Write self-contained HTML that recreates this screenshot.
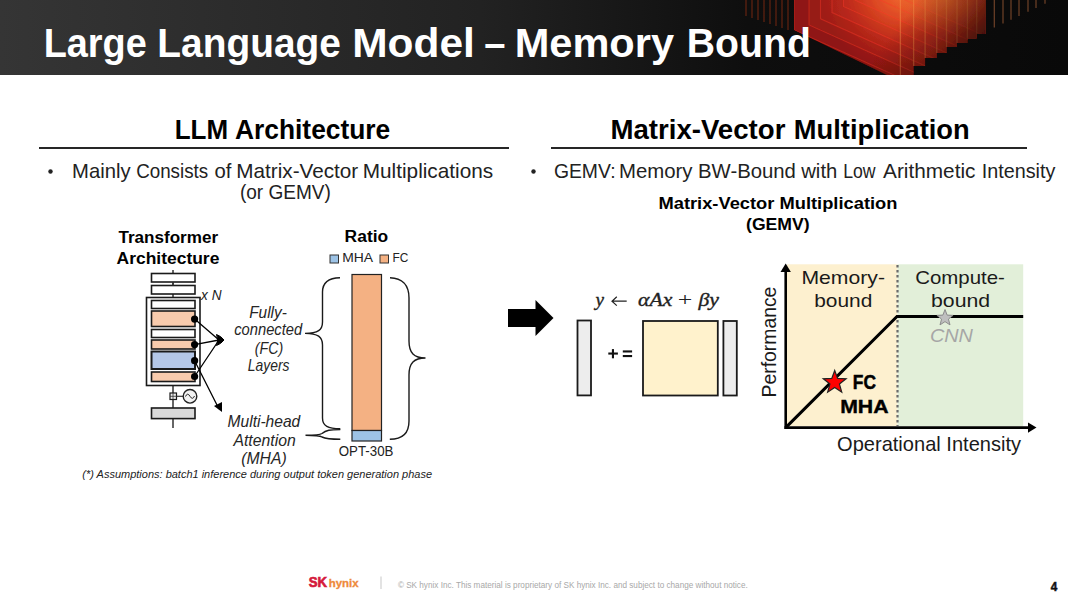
<!DOCTYPE html>
<html><head><meta charset="utf-8"><style>
html,body{margin:0;padding:0;background:#fff;width:1068px;height:601px;overflow:hidden}
svg{display:block}
</style></head><body>
<svg width="1068" height="601" viewBox="0 0 1068 601">
<defs>
<linearGradient id="hg" x1="0" y1="0" x2="1" y2="0">
<stop offset="0" stop-color="#353535"/><stop offset="0.45" stop-color="#222"/><stop offset="0.7" stop-color="#0e0e0e"/><stop offset="1" stop-color="#090909"/>
</linearGradient>
<radialGradient id="rg" cx="900" cy="-8" r="78" gradientUnits="userSpaceOnUse">
<stop offset="0" stop-color="#f08434" stop-opacity="1"/><stop offset="0.35" stop-color="#e05a22" stop-opacity="0.75"/><stop offset="0.7" stop-color="#d03018" stop-opacity="0.35"/><stop offset="1" stop-color="#c82818" stop-opacity="0"/>
</radialGradient>
<linearGradient id="rdark" x1="925" y1="-10" x2="990" y2="40" gradientUnits="userSpaceOnUse">
<stop offset="0" stop-color="#4a1405" stop-opacity="0"/><stop offset="0.5" stop-color="#3a1005" stop-opacity="0.4"/><stop offset="1" stop-color="#1a0602" stop-opacity="0.85"/>
</linearGradient>
<radialGradient id="rtop" cx="945" cy="0" r="45" gradientUnits="userSpaceOnUse" gradientTransform="translate(945 0) scale(1.2 0.8) translate(-945 0)">
<stop offset="0" stop-color="#e07a30" stop-opacity="0.65"/><stop offset="1" stop-color="#e07a30" stop-opacity="0"/>
</radialGradient>
<linearGradient id="rs" x1="0" y1="0" x2="1" y2="0">
<stop offset="0" stop-color="#5a1208"/><stop offset="1" stop-color="#b0501c"/>
</linearGradient>
</defs>
<rect x="0" y="0" width="1068" height="75" fill="url(#hg)"/>

<clipPath id="hc"><rect x="0" y="0" width="1068" height="75"/></clipPath><g clip-path="url(#hc)"><line x1="746" y1="0" x2="746" y2="16.0" stroke="#6a2412" stroke-opacity="0.8" stroke-width="1.4"/><line x1="752" y1="0" x2="752" y2="18.0" stroke="#6a2412" stroke-opacity="0.8" stroke-width="1.4"/><line x1="758" y1="0" x2="758" y2="20.0" stroke="#6a2412" stroke-opacity="0.8" stroke-width="1.4"/><line x1="764" y1="0" x2="764" y2="21.9" stroke="#6a2412" stroke-opacity="0.8" stroke-width="1.4"/><line x1="770" y1="0" x2="770" y2="23.9" stroke="#6a2412" stroke-opacity="0.8" stroke-width="1.4"/><line x1="776" y1="0" x2="776" y2="25.9" stroke="#6a2412" stroke-opacity="0.8" stroke-width="1.4"/><line x1="782" y1="0" x2="782" y2="27.9" stroke="#6a2412" stroke-opacity="0.8" stroke-width="1.4"/><line x1="788" y1="0" x2="788" y2="29.9" stroke="#6a2412" stroke-opacity="0.8" stroke-width="1.4"/><clipPath id="pc"><polygon points="794.0,0.0 794.0,30.0 889.0,76.0 900.4,76.0 900.4,76.0 913.6,76.0 913.6,66.0 925.1,66.0 925.1,58.0 936.7,58.0 936.7,53.0 946.5,53.0 946.5,47.0 957.0,47.0 957.0,43.0 967.4,43.0 967.4,38.5 976.7,38.5 976.7,34.0 985.5,34.0 985.5,0.0"/></clipPath><filter id="bl" x="-5%" y="-5%" width="110%" height="110%"><feGaussianBlur stdDeviation="0.7"/></filter><g filter="url(#bl)"><polygon points="794.0,0.0 794.0,30.0 889.0,76.0 900.4,76.0 900.4,76.0 913.6,76.0 913.6,66.0 925.1,66.0 925.1,58.0 936.7,58.0 936.7,53.0 946.5,53.0 946.5,47.0 957.0,47.0 957.0,43.0 967.4,43.0 967.4,38.5 976.7,38.5 976.7,34.0 985.5,34.0 985.5,0.0" fill="#861210"/><g clip-path="url(#pc)"><rect x="790" y="0" width="200" height="76" fill="url(#rg)"/><polygon points="794.0,0 794.0,30.0 1054.0,147.0 1054.0,0" fill="#ff4a30" fill-opacity="0.08"/><polyline points="794.0,0 794.0,30.0 1054.0,147.0" fill="none" stroke="#ff3a2a" stroke-opacity="0.4" stroke-width="1.1"/><polygon points="809.0,0 809.0,25.0 1069.0,142.0 1069.0,0" fill="#ff4a30" fill-opacity="0.08"/><polyline points="809.0,0 809.0,25.0 1069.0,142.0" fill="none" stroke="#ff3a2a" stroke-opacity="0.4" stroke-width="1.1"/><polygon points="820.5,0 820.5,18.8 1080.5,135.8 1080.5,0" fill="#ff4a30" fill-opacity="0.08"/><polyline points="820.5,0 820.5,18.8 1080.5,135.8" fill="none" stroke="#ff3a2a" stroke-opacity="0.4" stroke-width="1.1"/><polygon points="832.0,0 832.0,12.6 1092.0,129.6 1092.0,0" fill="#ff4a30" fill-opacity="0.08"/><polyline points="832.0,0 832.0,12.6 1092.0,129.6" fill="none" stroke="#ff3a2a" stroke-opacity="0.4" stroke-width="1.1"/><polygon points="843.5,0 843.5,6.4 1103.5,123.4 1103.5,0" fill="#ff4a30" fill-opacity="0.08"/><polyline points="843.5,0 843.5,6.4 1103.5,123.4" fill="none" stroke="#ff3a2a" stroke-opacity="0.4" stroke-width="1.1"/><polygon points="855.0,0 855.0,0.2 1115.0,117.2 1115.0,0" fill="#ff4a30" fill-opacity="0.08"/><polyline points="855.0,0 855.0,0.2 1115.0,117.2" fill="none" stroke="#ff3a2a" stroke-opacity="0.4" stroke-width="1.1"/><polygon points="866.5,0 866.5,-6.0 1126.5,111.0 1126.5,0" fill="#ff4a30" fill-opacity="0.08"/><polyline points="866.5,0 866.5,-6.0 1126.5,111.0" fill="none" stroke="#ff3a2a" stroke-opacity="0.4" stroke-width="1.1"/><polygon points="878.0,0 878.0,-12.2 1138.0,104.8 1138.0,0" fill="#ff4a30" fill-opacity="0.08"/><polyline points="878.0,0 878.0,-12.2 1138.0,104.8" fill="none" stroke="#ff3a2a" stroke-opacity="0.4" stroke-width="1.1"/><line x1="900.4" y1="0" x2="900.4" y2="76" stroke="#f59048" stroke-opacity="0.5" stroke-width="1.3"/><line x1="913.6" y1="0" x2="913.6" y2="66" stroke="#f59048" stroke-opacity="0.5" stroke-width="1.3"/><line x1="925.1" y1="0" x2="925.1" y2="58" stroke="#f59048" stroke-opacity="0.5" stroke-width="1.3"/><line x1="936.7" y1="0" x2="936.7" y2="53" stroke="#f59048" stroke-opacity="0.5" stroke-width="1.3"/><line x1="946.5" y1="0" x2="946.5" y2="47" stroke="#f59048" stroke-opacity="0.5" stroke-width="1.3"/><line x1="957" y1="0" x2="957" y2="43" stroke="#f59048" stroke-opacity="0.5" stroke-width="1.3"/><line x1="967.4" y1="0" x2="967.4" y2="38.5" stroke="#f59048" stroke-opacity="0.5" stroke-width="1.3"/><line x1="976.7" y1="0" x2="976.7" y2="34" stroke="#f59048" stroke-opacity="0.5" stroke-width="1.3"/><rect x="880" y="0" width="110" height="50" fill="url(#rtop)"/><rect x="790" y="0" width="200" height="76" fill="url(#rdark)"/></g></g><line x1="994.3" y1="0" x2="994.3" y2="27.5" stroke="#8a5030" stroke-opacity="0.8" stroke-width="1.2"/><line x1="1003" y1="0" x2="1003" y2="23.4" stroke="#8a5030" stroke-opacity="0.8" stroke-width="1.2"/><line x1="1011" y1="0" x2="1011" y2="19.7" stroke="#8a5030" stroke-opacity="0.8" stroke-width="1.2"/><line x1="1019" y1="0" x2="1019" y2="15.9" stroke="#8a5030" stroke-opacity="0.8" stroke-width="1.2"/><line x1="1028" y1="0" x2="1028" y2="11.7" stroke="#8a5030" stroke-opacity="0.8" stroke-width="1.2"/><line x1="1036" y1="0" x2="1036" y2="7.9" stroke="#8a5030" stroke-opacity="0.8" stroke-width="1.2"/><line x1="1045" y1="0" x2="1045" y2="3.7" stroke="#8a5030" stroke-opacity="0.8" stroke-width="1.2"/></g>
<text x="43.67" y="56.70" font-family="Liberation Sans" font-weight="bold" font-style="normal" font-size="41.57" textLength="103.13" lengthAdjust="spacingAndGlyphs" fill="#fff" >Large</text>
<text x="157.30" y="56.70" font-family="Liberation Sans" font-weight="bold" font-style="normal" font-size="41.57" textLength="183.63" lengthAdjust="spacingAndGlyphs" fill="#fff" >Language</text>
<text x="352.16" y="56.70" font-family="Liberation Sans" font-weight="bold" font-style="normal" font-size="41.57" textLength="122.65" lengthAdjust="spacingAndGlyphs" fill="#fff" >Model</text>
<text x="484.14" y="56.70" font-family="Liberation Sans" font-weight="bold" font-style="normal" font-size="41.57" textLength="21.23" lengthAdjust="spacingAndGlyphs" fill="#fff" >–</text>
<text x="514.72" y="56.70" font-family="Liberation Sans" font-weight="bold" font-style="normal" font-size="41.57" textLength="159.30" lengthAdjust="spacingAndGlyphs" fill="#fff" >Memory</text>
<text x="686.78" y="56.70" font-family="Liberation Sans" font-weight="bold" font-style="normal" font-size="41.57" textLength="124.11" lengthAdjust="spacingAndGlyphs" fill="#fff" >Bound</text>
<text x="174.76" y="138.70" font-family="Liberation Sans" font-weight="bold" font-style="normal" font-size="26.89" textLength="53.38" lengthAdjust="spacingAndGlyphs" fill="#000" >LLM</text>
<text x="235.04" y="138.70" font-family="Liberation Sans" font-weight="bold" font-style="normal" font-size="26.89" textLength="155.16" lengthAdjust="spacingAndGlyphs" fill="#000" >Architecture</text>
<rect x="39" y="147" width="470" height="2" fill="#262626"/>
<text x="610.45" y="138.70" font-family="Liberation Sans" font-weight="bold" font-style="normal" font-size="26.89" textLength="174.97" lengthAdjust="spacingAndGlyphs" fill="#000" >Matrix-Vector</text>
<text x="793.87" y="138.70" font-family="Liberation Sans" font-weight="bold" font-style="normal" font-size="26.89" textLength="175.82" lengthAdjust="spacingAndGlyphs" fill="#000" >Multiplication</text>
<rect x="551" y="147" width="476" height="2" fill="#262626"/>
<circle cx="50.5" cy="171.5" r="2.2" fill="#222"/>
<text x="72.04" y="177.70" font-family="Liberation Sans" font-weight="normal" font-style="normal" font-size="20.64" textLength="58.50" lengthAdjust="spacingAndGlyphs" fill="#222" >Mainly</text>
<text x="136.14" y="177.70" font-family="Liberation Sans" font-weight="normal" font-style="normal" font-size="20.64" textLength="72.04" lengthAdjust="spacingAndGlyphs" fill="#222" >Consists</text>
<text x="214.55" y="177.70" font-family="Liberation Sans" font-weight="normal" font-style="normal" font-size="20.64" textLength="16.92" lengthAdjust="spacingAndGlyphs" fill="#222" >of</text>
<text x="236.30" y="177.70" font-family="Liberation Sans" font-weight="normal" font-style="normal" font-size="20.64" textLength="121.95" lengthAdjust="spacingAndGlyphs" fill="#222" >Matrix-Vector</text>
<text x="362.79" y="177.70" font-family="Liberation Sans" font-weight="normal" font-style="normal" font-size="20.64" textLength="130.36" lengthAdjust="spacingAndGlyphs" fill="#222" >Multiplications</text>
<text x="239.92" y="198.50" font-family="Liberation Sans" font-weight="normal" font-style="normal" font-size="20.64" textLength="90.97" lengthAdjust="spacingAndGlyphs" fill="#222" >(or GEMV)</text>
<circle cx="533.5" cy="171.5" r="2.2" fill="#222"/>
<text x="553.92" y="177.70" font-family="Liberation Sans" font-weight="normal" font-style="normal" font-size="20.64" textLength="61.65" lengthAdjust="spacingAndGlyphs" fill="#222" >GEMV:</text>
<text x="618.93" y="177.70" font-family="Liberation Sans" font-weight="normal" font-style="normal" font-size="20.64" textLength="73.51" lengthAdjust="spacingAndGlyphs" fill="#222" >Memory</text>
<text x="698.03" y="177.70" font-family="Liberation Sans" font-weight="normal" font-style="normal" font-size="20.64" textLength="97.88" lengthAdjust="spacingAndGlyphs" fill="#222" >BW-Bound</text>
<text x="801.23" y="177.70" font-family="Liberation Sans" font-weight="normal" font-style="normal" font-size="20.64" textLength="36.09" lengthAdjust="spacingAndGlyphs" fill="#222" >with</text>
<text x="843.15" y="177.70" font-family="Liberation Sans" font-weight="normal" font-style="normal" font-size="20.64" textLength="32.41" lengthAdjust="spacingAndGlyphs" fill="#222" >Low</text>
<text x="883.06" y="177.70" font-family="Liberation Sans" font-weight="normal" font-style="normal" font-size="20.64" textLength="92.39" lengthAdjust="spacingAndGlyphs" fill="#222" >Arithmetic</text>
<text x="981.77" y="177.70" font-family="Liberation Sans" font-weight="normal" font-style="normal" font-size="20.64" textLength="73.57" lengthAdjust="spacingAndGlyphs" fill="#222" >Intensity</text>
<text x="658.47" y="209.40" font-family="Liberation Sans" font-weight="bold" font-style="normal" font-size="16.28" textLength="238.96" lengthAdjust="spacingAndGlyphs" fill="#000" >Matrix-Vector Multiplication</text>
<text x="746.02" y="229.90" font-family="Liberation Sans" font-weight="bold" font-style="normal" font-size="16.28" textLength="63.56" lengthAdjust="spacingAndGlyphs" fill="#000" >(GEMV)</text>
<text x="118.41" y="242.60" font-family="Liberation Sans" font-weight="bold" font-style="normal" font-size="16.42" textLength="99.65" lengthAdjust="spacingAndGlyphs" fill="#000" >Transformer</text>
<text x="116.56" y="263.60" font-family="Liberation Sans" font-weight="bold" font-style="normal" font-size="16.42" textLength="102.83" lengthAdjust="spacingAndGlyphs" fill="#000" >Architecture</text>
<text x="344.63" y="242.30" font-family="Liberation Sans" font-weight="bold" font-style="normal" font-size="16.42" textLength="43.55" lengthAdjust="spacingAndGlyphs" fill="#000" >Ratio</text>
<rect x="330" y="255" width="8.5" height="8" fill="#9dc3e6" stroke="#333" stroke-width="1"/>
<text x="342.16" y="262.40" font-family="Liberation Sans" font-weight="normal" font-style="normal" font-size="13.08" textLength="30.87" lengthAdjust="spacingAndGlyphs" fill="#222" >MHA</text>
<rect x="380" y="255" width="8.5" height="8" fill="#f4b183" stroke="#333" stroke-width="1"/>
<text x="392.42" y="262.40" font-family="Liberation Sans" font-weight="normal" font-style="normal" font-size="13.08" textLength="15.83" lengthAdjust="spacingAndGlyphs" fill="#222" >FC</text>
<line x1="173" y1="270" x2="173" y2="428" stroke="#333" stroke-width="1.5"/><rect x="151.5" y="273.5" width="43.5" height="8.5" fill="#fff" stroke="#1a1a1a" stroke-width="1.6"/><rect x="151.5" y="285.5" width="43.5" height="8.5" fill="#fff" stroke="#1a1a1a" stroke-width="1.6"/><rect x="146.5" y="297.5" width="53.5" height="88.0" fill="#fff" stroke="#1a1a1a" stroke-width="1.6"/><rect x="151.5" y="300.5" width="43.5" height="8.0" fill="#fff" stroke="#1a1a1a" stroke-width="1.6"/><rect x="151.5" y="311" width="43.5" height="15.5" fill="#f8cbad" stroke="#1a1a1a" stroke-width="1.6"/><rect x="151.5" y="329.5" width="43.5" height="8.0" fill="#fff" stroke="#1a1a1a" stroke-width="1.6"/><rect x="151.5" y="340" width="43.5" height="9" fill="#f8cbad" stroke="#1a1a1a" stroke-width="1.6"/><rect x="151.5" y="351.5" width="43.5" height="17.5" fill="#b4c7e7" stroke="#1a1a1a" stroke-width="2"/><rect x="151.5" y="372" width="43.5" height="9.5" fill="#f8cbad" stroke="#1a1a1a" stroke-width="1.6"/><line x1="173" y1="282" x2="173" y2="285.5" stroke="#333" stroke-width="1.5"/><circle cx="194.6" cy="319.1" r="3.6" fill="#000"/><circle cx="194.6" cy="344.6" r="3.6" fill="#000"/><circle cx="194.6" cy="360.7" r="3.6" fill="#000"/><circle cx="194.6" cy="376.5" r="3.6" fill="#000"/><path d="M194.6 319.1 L219 340 M194.6 344.6 L219 340 M194.6 376.5 L219 340 M194.6 360.7 L219 409" stroke="#000" stroke-width="1.3" fill="none"/><path d="M216.5 334.5 Q221 336 224 340 Q221 344 216.5 345.5 Q219 340 216.5 334.5 Z" fill="#000" stroke="#000" stroke-width="1"/><path d="M214 406 L222 412 L222 402 Z" fill="#000"/><rect x="170" y="393" width="6.5" height="6.5" fill="#eee" stroke="#1a1a1a" stroke-width="1.2"/><line x1="170" y1="396.3" x2="176.5" y2="396.3" stroke="#333" stroke-width="0.8"/><line x1="173" y1="393" x2="173" y2="399.5" stroke="#333" stroke-width="0.8"/><line x1="176.5" y1="396.3" x2="183" y2="396.3" stroke="#333" stroke-width="1.2"/><circle cx="190" cy="396.3" r="6.8" fill="#f2f2f2" stroke="#222" stroke-width="1.4"/><path d="M185.5 396.5 Q187.5 392 190 396.3 Q192.5 400.5 194.5 396" fill="none" stroke="#222" stroke-width="1"/><rect x="151.5" y="408" width="43.5" height="10.600000000000023" fill="#d9d9d9" stroke="#1a1a1a" stroke-width="1.6"/>
<text x="201.05" y="300.00" font-family="Liberation Sans" font-weight="normal" font-style="italic" font-size="15.26" textLength="20.45" lengthAdjust="spacingAndGlyphs" fill="#222" >x N</text>
<text x="249.23" y="318.40" font-family="Liberation Sans" font-weight="normal" font-style="italic" font-size="15.70" textLength="37.62" lengthAdjust="spacingAndGlyphs" fill="#262626" >Fully-</text>
<text x="234.22" y="335.40" font-family="Liberation Sans" font-weight="normal" font-style="italic" font-size="15.70" textLength="67.99" lengthAdjust="spacingAndGlyphs" fill="#262626" >connected</text>
<text x="254.73" y="354.30" font-family="Liberation Sans" font-weight="normal" font-style="italic" font-size="15.70" textLength="28.42" lengthAdjust="spacingAndGlyphs" fill="#262626" >(FC)</text>
<text x="247.87" y="371.30" font-family="Liberation Sans" font-weight="normal" font-style="italic" font-size="15.70" textLength="41.71" lengthAdjust="spacingAndGlyphs" fill="#262626" >Layers</text>
<text x="227.52" y="426.80" font-family="Liberation Sans" font-weight="normal" font-style="italic" font-size="15.70" textLength="72.77" lengthAdjust="spacingAndGlyphs" fill="#262626" >Multi-head</text>
<text x="233.48" y="445.80" font-family="Liberation Sans" font-weight="normal" font-style="italic" font-size="15.70" textLength="62.24" lengthAdjust="spacingAndGlyphs" fill="#262626" >Attention</text>
<text x="241.26" y="463.60" font-family="Liberation Sans" font-weight="normal" font-style="italic" font-size="15.70" textLength="45.38" lengthAdjust="spacingAndGlyphs" fill="#262626" >(MHA)</text>
<rect x="352" y="274.5" width="29.5" height="156" fill="#f4b183" stroke="#222" stroke-width="1.2"/>
<rect x="352" y="430.5" width="29.5" height="10.5" fill="#9dc3e6" stroke="#222" stroke-width="1.2"/>
<text x="338.77" y="456.20" font-family="Liberation Sans" font-weight="normal" font-style="normal" font-size="13.81" textLength="54.63" lengthAdjust="spacingAndGlyphs" fill="#222" >OPT-30B</text>
<path d="M340 277.7 C328 278 322.5 283 322.5 292 L322.5 322 C322.5 330 318 333.4 305 333.4 C318 333.4 322.5 337 322.5 345 L322.5 418 C322.5 426 328 428.8 340.3 428.8" fill="none" stroke="#1a1a1a" stroke-width="1.4"/>
<path d="M340.3 429.6 C330 429.6 326 430 322 433.5 C320 435 315 435.3 305.5 435.3 C315 435.3 320 435.6 322 437 C326 439 330 439.3 340.3 439.3" fill="none" stroke="#1a1a1a" stroke-width="1.4"/>
<path d="M390 277.7 C402 278 409 285 409 298 L409 341 C409 353 414 358 425.5 358 C414 358 409 363 409 375 L409 421 C409 434 402 439.3 389.8 439.3" fill="none" stroke="#1a1a1a" stroke-width="1.4"/>
<text x="82.39" y="477.60" font-family="Liberation Sans" font-weight="normal" font-style="italic" font-size="10.47" textLength="349.62" lengthAdjust="spacingAndGlyphs" fill="#222" >(*) Assumptions: batch1 inference during output token generation  phase</text>
<polygon points="508,309 535.5,309 535.5,300 553.5,318 535.5,336 535.5,327 508,327" fill="#000"/>
<text x="595.40" y="305.90" font-family="Liberation Serif" font-weight="normal" font-style="italic" font-size="19.39" textLength="8.49" lengthAdjust="spacingAndGlyphs" fill="#222" stroke="#222" stroke-width="0.35">y</text>
<path d="M626.7 301.2 H612.2 M616.8 296.8 L612 301.2 L616.8 305.6" fill="none" stroke="#222" stroke-width="1.2"/>
<text x="638.05" y="305.90" font-family="Liberation Serif" font-weight="normal" font-style="italic" font-size="19.39" textLength="34.31" lengthAdjust="spacingAndGlyphs" fill="#222" stroke="#222" stroke-width="0.35">αAx</text>
<text x="677.82" y="305.90" font-family="Liberation Serif" font-weight="normal" font-style="normal" font-size="19.00" textLength="14.54" lengthAdjust="spacingAndGlyphs" fill="#222" >+</text>
<text x="698.45" y="305.90" font-family="Liberation Serif" font-weight="normal" font-style="italic" font-size="19.39" textLength="20.54" lengthAdjust="spacingAndGlyphs" fill="#222" stroke="#222" stroke-width="0.35">βy</text>
<rect x="577.5" y="320.5" width="13.5" height="74.89999999999998" fill="#ededed" stroke="#1a1a1a" stroke-width="1.8"/>
<rect x="643" y="321" width="74.79999999999995" height="74.5" fill="#fff2cc" stroke="#1a1a1a" stroke-width="1.8"/>
<rect x="723.4" y="321" width="13.399999999999977" height="74.5" fill="#ededed" stroke="#1a1a1a" stroke-width="1.8"/>
<rect x="608.3" y="352.5" width="9.6" height="2.1" fill="#111"/><rect x="611.9" y="349.1" width="2.1" height="9.2" fill="#111"/><rect x="622.8" y="350.4" width="9.3" height="2.1" fill="#111"/><rect x="622.8" y="355" width="9.3" height="2.1" fill="#111"/>
<rect x="787" y="264.3" width="110.5" height="162" fill="#fdf0cf"/><rect x="897.5" y="264.3" width="125.7" height="162" fill="#e2efd9"/><line x1="897.5" y1="265" x2="897.5" y2="426" stroke="#6a6a6a" stroke-width="2.2" stroke-dasharray="2.4,2.6"/><path d="M785.7 427.6 L897 316.4 L1023.2 316.4" fill="none" stroke="#000" stroke-width="3"/><line x1="785.7" y1="429" x2="785.7" y2="270" stroke="#000" stroke-width="2.6"/><polygon points="780.5,272 785.7,263.5 790.9,272" fill="#000"/><line x1="784.5" y1="427.6" x2="1030" y2="427.6" stroke="#000" stroke-width="2.6"/><polygon points="1028,422.4 1036.5,427.6 1028,432.8" fill="#000"/><polygon points="834.70,370.50 837.64,378.45 846.11,378.79 839.46,384.05 841.75,392.21 834.70,387.50 827.65,392.21 829.94,384.05 823.29,378.79 831.76,378.45" fill="#ff0000" stroke="#222" stroke-width="1.2" stroke-linejoin="miter"/><polygon points="945.00,309.50 947.12,315.09 953.08,315.37 948.42,319.11 950.00,324.88 945.00,321.60 940.00,324.88 941.58,319.11 936.92,315.37 942.88,315.09" fill="#bfbfbf" stroke="#8c8c8c" stroke-width="1" stroke-linejoin="miter"/>
<text x="801.46" y="283.70" font-family="Liberation Sans" font-weight="normal" font-style="normal" font-size="17.73" textLength="83.48" lengthAdjust="spacingAndGlyphs" fill="#1a1a1a" >Memory-</text>
<text x="814.25" y="307.40" font-family="Liberation Sans" font-weight="normal" font-style="normal" font-size="17.73" textLength="58.10" lengthAdjust="spacingAndGlyphs" fill="#1a1a1a" >bound</text>
<text x="915.16" y="283.70" font-family="Liberation Sans" font-weight="normal" font-style="normal" font-size="17.73" textLength="89.75" lengthAdjust="spacingAndGlyphs" fill="#1a1a1a" >Compute-</text>
<text x="931.03" y="307.40" font-family="Liberation Sans" font-weight="normal" font-style="normal" font-size="17.73" textLength="59.15" lengthAdjust="spacingAndGlyphs" fill="#1a1a1a" >bound</text>
<text x="929.90" y="341.80" font-family="Liberation Sans" font-weight="normal" font-style="italic" font-size="17.44" textLength="43.09" lengthAdjust="spacingAndGlyphs" fill="#a6a6a6" >CNN</text>
<text x="852.84" y="388.60" font-family="Liberation Sans" font-weight="bold" font-style="normal" font-size="19.77" textLength="23.14" lengthAdjust="spacingAndGlyphs" fill="#000" stroke="#000" stroke-width="0.5">FC</text>
<text x="840.18" y="412.50" font-family="Liberation Sans" font-weight="bold" font-style="normal" font-size="18.90" textLength="48.39" lengthAdjust="spacingAndGlyphs" fill="#000" stroke="#000" stroke-width="0.4">MHA</text>
<text x="837.05" y="450.50" font-family="Liberation Sans" font-weight="normal" font-style="normal" font-size="19.62" textLength="183.99" lengthAdjust="spacingAndGlyphs" fill="#1a1a1a" >Operational Intensity</text>
<text x="-397.39" y="776.10" font-family="Liberation Sans" font-weight="normal" font-style="normal" font-size="20.35" textLength="110.75" lengthAdjust="spacingAndGlyphs" fill="#1a1a1a" transform="rotate(-90)">Performance</text>
<text x="308.82" y="586.90" font-family="Liberation Sans" font-weight="bold" font-style="normal" font-size="14.53" textLength="18.30" lengthAdjust="spacingAndGlyphs" fill="#d41a3c" stroke="#d41a3c" stroke-width="0.7">SK</text>
<text x="328.70" y="586.90" font-family="Liberation Sans" font-weight="bold" font-style="normal" font-size="10.90" textLength="29.88" lengthAdjust="spacingAndGlyphs" fill="#ee8a3a" stroke="#ee8a3a" stroke-width="0.3">hynix</text>
<rect x="380.5" y="576.5" width="1" height="12.5" fill="#c8c8c8"/>
<text x="397.88" y="587.80" font-family="Liberation Sans" font-weight="normal" font-style="normal" font-size="8.43" textLength="349.87" lengthAdjust="spacingAndGlyphs" fill="#a8a8a8" >© SK hynix Inc. This material is proprietary of SK hynix Inc. and subject to change without notice.</text>
<text x="1050.82" y="590.60" font-family="Liberation Sans" font-weight="bold" font-style="normal" font-size="12.21" textLength="6.54" lengthAdjust="spacingAndGlyphs" fill="#111" stroke="#111" stroke-width="0.5">4</text>
</svg>
</body></html>
